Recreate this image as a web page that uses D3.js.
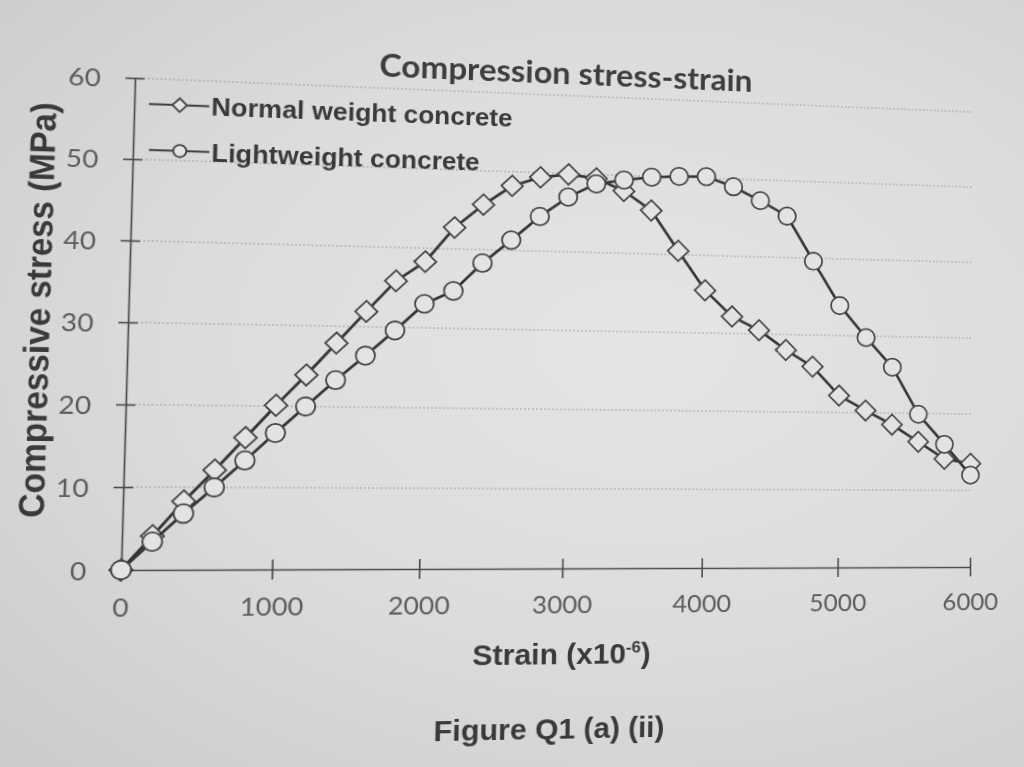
<!DOCTYPE html>
<meta charset="utf-8">
<style>
    html, body { margin: 0; padding: 0; }
    body {
        width: 1024px; height: 767px; overflow: hidden;
        background: radial-gradient(ellipse at 62% 45%, #e5e5e3 0%, #dcdcda 50%, #cbcbc9 100%);
    }
    #chart { position: absolute; left: 0; top: 0; transform-origin: 0 0; overflow: visible; }
    .grid line { stroke: #8c8c8c; stroke-width: 1; stroke-dasharray: 2,2; opacity: 0.75; }
    .axis path, .axis line { stroke: #4a4a4a; stroke-width: 1.6; }
    .axis text { font-family: Lato, "Open Sans", sans-serif; font-size: 26px; fill: #5c5c5c; }
    .series path.line { fill: none; stroke: #363636; stroke-width: 2.8; }
    .series .mark { fill: #e3e3e1; stroke: #474747; stroke-width: 1.8; }
    .bold { font-family: "Liberation Sans", Arial, sans-serif; font-weight: bold; fill: #3a3a3a; }
</style>
<body>
<svg id="chart" width="1024" height="767"></svg>
</body>
<script src="https://d3js.org/d3.v7.min.js"></script>
<script>

    // strain (x10^-6)
    var strain = [0, 200, 400, 600, 800, 1000, 1200, 1400, 1600, 1800, 2000,
        2200, 2400, 2600, 2800, 3000, 3200, 3400, 3600, 3800, 4000,
        4200, 4400, 4600, 4800, 5000, 5200, 5400, 5600, 5800, 6000];

    // compressive stress (MPa)
    var normalWeight = [0, 4.1, 8.3, 12.1, 16.1, 20.1, 23.9, 27.9, 31.9, 35.8, 38.3,
        42.7, 45.7, 48.2, 49.4, 49.9, 49.5, 48.0, 45.6, 40.5, 35.5,
        32.2, 30.5, 28.0, 25.9, 22.2, 20.3, 18.5, 16.3, 14.1, 13.5];

    var lightWeight = [0, 3.4, 6.8, 10.0, 13.3, 16.7, 20.0, 23.3, 26.4, 29.6, 33.0,
        34.7, 38.3, 41.3, 44.4, 47.0, 48.8, 49.4, 49.9, 50.1, 50.2,
        49.0, 47.3, 45.4, 39.6, 33.9, 29.8, 26.0, 19.9, 16.0, 12.0];

    var seriesNames = ["Normal weight concrete", "Lightweight concrete"];
    var xTicks = [0, 1000, 2000, 3000, 4000, 5000, 6000];
    var yTicks = [0, 10, 20, 30, 40, 50, 60];

    var svg = d3.select("#chart");

    var x = d3.scaleLinear().domain([0, 6000]).range([120, 970]);
    var y = d3.scaleLinear().domain([0, 60]).range([570, 78]);

    // the page was photographed at an angle: map the flat plot corners
    // onto where they sit in the photo
    var flatCorners = [[x(0), y(0)], [x(6000), y(0)], [x(0), y(60)], [x(6000), y(60)]];
    var photoCorners = [[121, 570], [970, 567], [135, 78], [972, 112]];
    var h = homography(flatCorners, photoCorners);

    svg.style("transform", "matrix3d(" + [h[0], h[3], 0, h[6], h[1], h[4], 0, h[7],
        0, 0, 1, 0, h[2], h[5], 0, 1].join(",") + ")");

    function homography(src, dst) {
        var A = [], b = [], r, k, c;
        for (var i = 0; i < 4; i++) {
            var sx = src[i][0], sy = src[i][1], dx = dst[i][0], dy = dst[i][1];
            A.push([sx, sy, 1, 0, 0, 0, -sx * dx, -sy * dx]); b.push(dx);
            A.push([0, 0, 0, sx, sy, 1, -sx * dy, -sy * dy]); b.push(dy);
        }
        for (c = 0; c < 8; c++) {
            var p = c;
            for (r = c + 1; r < 8; r++) if (Math.abs(A[r][c]) > Math.abs(A[p][c])) p = r;
            var t = A[c]; A[c] = A[p]; A[p] = t;
            t = b[c]; b[c] = b[p]; b[p] = t;
            for (r = c + 1; r < 8; r++) {
                var f = A[r][c] / A[c][c];
                for (k = c; k < 8; k++) A[r][k] -= f * A[c][k];
                b[r] -= f * b[c];
            }
        }
        var out = new Array(8);
        for (c = 7; c >= 0; c--) {
            var s = b[c];
            for (k = c + 1; k < 8; k++) s -= A[c][k] * out[k];
            out[c] = s / A[c][c];
        }
        return out;
    }

    // photo position -> flat svg position (for placing the texts)
    function toFlat(X, Y) {
        var a = h[0] - X * h[6], b = h[1] - X * h[7], c = X - h[2];
        var d = h[3] - Y * h[6], e = h[4] - Y * h[7], f = Y - h[5];
        var det = a * e - b * d;
        return [(c * e - b * f) / det, (a * f - c * d) / det];
    }

    // gridlines
    svg.append("g").attr("class", "grid")
        .selectAll("line")
        .data(yTicks.filter(function (v) { return v > 0; }))
        .enter().append("line")
        .attr("x1", x(0)).attr("x2", x(6000))
        .attr("y1", function (d) { return y(d); })
        .attr("y2", function (d) { return y(d); });

    // axes
    var yAxis = svg.append("g").attr("class", "axis")
        .attr("transform", "translate(" + x(0) + ",0)")
        .call(d3.axisLeft(y).tickValues(yTicks).tickSizeOuter(0).tickSizeInner(9).tickPadding(23));
    yAxis.selectAll(".tick line").attr("x1", 9);
    yAxis.selectAll(".tick text").attr("dy", "0.36em");

    var xAxis = svg.append("g").attr("class", "axis")
        .attr("transform", "translate(0," + y(0) + ")")
        .call(d3.axisBottom(x).tickValues(xTicks).tickFormat(d3.format("d"))
            .tickSizeOuter(0).tickSizeInner(10).tickPadding(18));
    xAxis.selectAll(".tick line").attr("y1", -10);

    var line = d3.line()
        .x(function (d, i) { return x(strain[i]); })
        .y(function (d) { return y(d); });

    var diamond = d3.symbol().type(d3.symbolSquare).size(235);
    var circle = d3.symbol().type(d3.symbolCircle).size(270);

    function drawSeries(values, sym, rot) {
        var g = svg.append("g").attr("class", "series");
        g.append("path").attr("class", "line").attr("d", line(values));
        g.selectAll(".mark")
            .data(values)
            .enter().append("path")
            .attr("class", "mark")
            .attr("d", sym)
            .attr("transform", function (d, i) {
                return "translate(" + x(strain[i]) + "," + y(d) + ") rotate(" + rot + ")";
            });
    }

    drawSeries(normalWeight, diamond, 45);
    drawSeries(lightWeight, circle, 0);

    // legend
    var legendSyms = [[d3.symbol().type(d3.symbolSquare).size(95), 45],
        [d3.symbol().type(d3.symbolCircle).size(120), 0]];
    var legendRows = [toFlat(149, 104), toFlat(149, 150)];
    seriesNames.forEach(function (name, i) {
        var p = legendRows[i];
        var g = svg.append("g").attr("class", "series")
            .attr("transform", "translate(" + p[0] + "," + p[1] + ")");
        g.append("line").attr("x1", 0).attr("x2", 57)
            .style("stroke", "#3c3c3c").style("stroke-width", 2);
        g.append("path").attr("class", "mark")
            .attr("d", legendSyms[i][0])
            .attr("transform", "translate(29,0) rotate(" + legendSyms[i][1] + ")");
        g.append("text").attr("class", "bold")
            .attr("x", 59).attr("dy", "0.36em")
            .style("font-size", "26px")
            .text(name);
    });

    // titles
    var tp = toFlat(569, 84);
    svg.append("text")
        .attr("x", tp[0]).attr("y", tp[1])
        .attr("text-anchor", "middle")
        .style("font-family", "Lato, 'Open Sans', sans-serif")
        .style("font-weight", "bold")
        .style("font-size", "33px")
        .style("fill", "#3e3e3e")
        .text("Compression stress-strain");

    var yp = toFlat(50, 309);
    svg.append("text").attr("class", "bold")
        .attr("transform", "translate(" + yp[0] + "," + yp[1] + ") rotate(-90)")
        .attr("text-anchor", "middle")
        .style("font-size", "33px")
        .text("Compressive stress (MPa)");

    var xp = toFlat(562, 664);
    var xt = svg.append("text").attr("class", "bold")
        .attr("x", xp[0]).attr("y", xp[1])
        .attr("text-anchor", "middle")
        .style("font-size", "30px");
    xt.append("tspan").text("Strain (x10");
    xt.append("tspan").attr("dy", -11).style("font-size", "17px").text("-6");
    xt.append("tspan").attr("dy", 11).text(")");

    var cp = toFlat(550, 739);
    svg.append("text").attr("class", "bold")
        .attr("x", cp[0]).attr("y", cp[1])
        .attr("text-anchor", "middle")
        .style("font-size", "30px")
        .text("Figure Q1 (a) (ii)");

</script>
